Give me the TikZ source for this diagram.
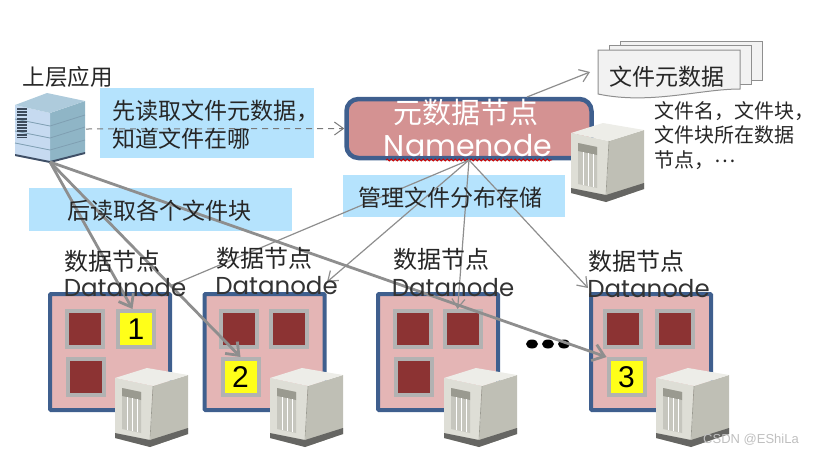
\documentclass[tikz,border=0pt]{standalone}
\usepackage{fontspec}
\setmainfont{Noto Sans CJK SC}
\newfontfamily\dnfont{Poppins}
\newfontfamily\numfont{Liberation Sans}
\usepackage{tikz}
\usetikzlibrary{arrows.meta,decorations.pathmorphing,shapes.geometric}

\begin{document}
\begin{tikzpicture}[x=1pt,y=-1pt,>={Straight Barb[length=9pt,width=13pt]},
    note box/.style={fill=noteblue,inner sep=0pt},
    note text/.style={font=\fontsize{23}{28}\selectfont,align=left,inner sep=0pt,text=black!85},
    side text/.style={font=\fontsize{20}{24.5}\selectfont,align=left,inner sep=0pt,text=black!85},
    data title/.style={font=\fontsize{24}{28}\selectfont,inner sep=0pt,text=black!85},
    data name/.style={font=\dnfont\fontsize{24.5}{28}\selectfont,inner sep=0pt,text=black!80},
    data box/.style={draw=nodeblue,fill=datapink,line width=4pt,rounded corners=1pt,minimum width=120pt,minimum height=116pt,inner sep=0pt},
    block/.style={draw=blockgrey,fill=blockred,line width=4pt,minimum width=36pt,minimum height=36pt,inner sep=0pt},
    num block/.style={block,fill=blockyellow,font=\numfont\fontsize{30}{30}\selectfont},
    page/.style={draw=pagegrey,fill=pagefill,line width=1pt,inner sep=0pt},
    dot/.style={ellipse,fill=black,minimum width=12pt,minimum height=9pt,inner sep=0pt},
    thin link/.style={->,draw=linegrey,line width=1.2pt},
    thick link/.style={-{Straight Barb[length=11pt,width=17pt]},draw=linegrey,line width=2.8pt},
    server/.pic={
      \fill[fill=srvside] (38,18) -- (73,7) -- (73,66) -- (35,79) -- cycle;
      \fill[fill=srvfront] (0,10) -- (38,18) -- (35,79) -- (0,70) -- cycle;
      \fill[fill=srvtop] (0,10) -- (32,0) -- (73,7) -- (38,18) -- cycle;
      \fill[fill=srvbase] (0,65) -- (35,72) -- (73,60) -- (73,66) -- (35,79) -- (0,70) -- cycle;
      \fill[fill=srvdoor] (7,20) -- (26,24) -- (26,65) -- (7,61) -- cycle;
      \fill[fill=srvhead] (7,20) -- (26,24) -- (26,32) -- (7,28) -- cycle;
      \draw[draw=white,line width=1pt] (12,29) -- (12,62) (17,30) -- (17,63) (22,31) -- (22,64);
      \draw[draw=srvhead,line width=.6pt] (38,18) -- (35,72);
    },
    client/.pic={
      \fill[fill=cliside] (36,20) -- (71,8) -- (71,60) -- (36,69) -- cycle;
      \fill[fill=clifront] (1,12) -- (36,20) -- (36,69) -- (1,62) -- cycle;
      \fill[fill=clitop] (1,12) -- (33,0) -- (71,8) -- (36,20) -- cycle;
      \draw[draw=cliline,line width=.8pt] (1,26) -- (36,33) -- (71,22) (1,38) -- (36,45) -- (71,34)
        (1,50) -- (36,57) -- (71,47);
      \draw[draw=clivent,line width=10pt,dash pattern=on 2pt off 1.2pt] (8,15) -- (8,45);
      \fill[fill=clidark] (1,61) -- (36,68) -- (71,59) -- (71,61) -- (36,70) -- (1,63) -- cycle;
    }]

  \definecolor{noteblue}{HTML}{B5E3FD}
  \definecolor{nodeblue}{HTML}{3F5F8E}
  \definecolor{namepink}{HTML}{D49292}
  \definecolor{datapink}{HTML}{E4B5B5}
  \definecolor{blockgrey}{HTML}{B2B2B2}
  \definecolor{blockred}{HTML}{8C3333}
  \definecolor{blockyellow}{HTML}{FFFF19}
  \definecolor{pagegrey}{HTML}{8F8F8F}
  \definecolor{pagefill}{HTML}{F2F2F2}
  \definecolor{linegrey}{HTML}{8E8E8E}
  \definecolor{srvside}{HTML}{BFBFB5}
  \definecolor{srvfront}{HTML}{DEDED6}
  \definecolor{srvtop}{HTML}{EDEDE8}
  \definecolor{srvbase}{HTML}{666663}
  \definecolor{srvdoor}{HTML}{C6C6BE}
  \definecolor{srvhead}{HTML}{9A9A90}
  \definecolor{cliside}{HTML}{8FB5C6}
  \definecolor{clifront}{HTML}{C6DAF0}
  \definecolor{clitop}{HTML}{AECBDC}
  \definecolor{cliline}{HTML}{7F9FB2}
  \definecolor{clivent}{HTML}{3C4A5A}
  \definecolor{clidark}{HTML}{3F4F66}

  \useasboundingbox (0,0) rectangle (817,456);

  % boxes with notes
  \node[note box,minimum width=214pt,minimum height=70pt] (readmeta) at (207,123) {};
  \node[note box,minimum width=263pt,minimum height=43pt] (readblock) at (160.5,209.5) {};
  \node[note box,minimum width=222pt,minimum height=42pt] (manage) at (454,196) {};

  % name node
  \node[draw=nodeblue,fill=namepink,line width=4.5pt,rounded corners=12pt,minimum width=245pt,minimum height=59pt] (namenode) at (469,128.5) {};
  \draw[decorate,decoration={snake,amplitude=1pt,segment length=4pt},draw=red!80!black,line width=.8pt] (386,160) -- (552,160);

  % file metadata pages
  \node[page,minimum width=142pt,minimum height=39pt] (page3) at (691.5,60.5) {};
  \node[page,minimum width=142pt,minimum height=39pt] (page2) at (680,64.5) {};
  \draw[draw=pagegrey,fill=pagefill,line width=1pt] (598,50) -- (740,50) -- (740,89) .. controls (700,89) and (650,105) .. (598,94) -- cycle;

  % data nodes
  \node[data box] (dn1) at (110,352) {};
  \node[data box] (dn2) at (264.5,352) {};
  \node[data box] (dn3) at (438,352) {};
  \node[data box] (dn4) at (651,352) {};

  \node[block] (b1a) at (84.5,329) {};
  \node[num block] (b1b) at (136,329) {1};
  \node[block] (b1c) at (86,377) {};
  \node[block] (b2a) at (238.5,329) {};
  \node[block] (b2b) at (289,329) {};
  \node[num block] (b2c) at (240.5,377) {2};
  \node[block] (b3a) at (412.5,329) {};
  \node[block] (b3b) at (463,329) {};
  \node[block] (b3c) at (413.5,377) {};
  \node[block] (b4a) at (623,329) {};
  \node[block] (b4b) at (675,329) {};
  \node[num block] (b4c) at (626.5,377) {3};

  \node[dot] (dot1) at (532,344) {};
  \node[dot] (dot2) at (548,344) {};
  \node[dot] (dot3) at (564,344) {};

  % servers
  \pic (clientpc) at (14,93) {client};
  \pic (nameserver) at (571,123) {server};
  \pic (server1) at (115,368) {server};
  \pic (server2) at (270,368) {server};
  \pic (server3) at (444,368) {server};
  \pic (server4) at (656,368) {server};

  % ends of the links
  \coordinate (clientleft) at (86,129);
  \coordinate (clientfoot) at (50,162);
  \coordinate (nametop) at (527,97);
  \coordinate (namefoot) at (469,160);
  \coordinate (pagetip) at (590,72);
  \coordinate (dn1tip) at (170,286);
  \coordinate (dn2tip) at (327,282);
  \coordinate (dn4tip) at (588,288);

  \path (clientleft) edge [->,draw=linegrey!85!black,line width=1pt,dash pattern=on 6pt off 5pt] (namenode.west)
        (nametop) edge [thin link] (pagetip)
        (namefoot) edge [thin link,-] (dn1tip)
        (namefoot) edge [thin link] (dn2tip)
        (namefoot) edge [thin link] (b3b.105)
        (namefoot) edge [thin link] (dn4tip)
        (clientfoot) edge [thick link] (b1b.100)
        (clientfoot) edge [thick link] (b2c.north)
        (clientfoot) edge [thick link] (b4c.north west);

  % texts
  \node[side text,font=\fontsize{22.5}{24}\selectfont] (clienttext) at (68,77) {上层应用};
  \node[note text] (readmetatext) at (216,125) {先读取文件元数据，\\知道文件在哪};
  \node[note text] (readblocktext) at (159,211) {后读取各个文件块};
  \node[note text] (managetext) at (450,198) {管理文件分布存储};
  \node[font=\fontsize{29}{34}\selectfont,text=white,inner sep=0pt] (nametext) at (466,113) {元数据节点};
  \node[font=\dnfont\fontsize{30}{34}\selectfont,text=white,inner sep=0pt] (namenodetext) at (468,146) {Namenode};
  \node[note text] (pagetext) at (667,77) {文件元数据};
  \node[side text,anchor=north west] (sidetext) at (654,101) {文件名，文件块，\\文件块所在数据\\节点，\raisebox{5pt}{…}};

  \node[data title] (dt1) at (112,261) {数据节点};
  \node[data title] (dt2) at (264,258) {数据节点};
  \node[data title] (dt3) at (441,259) {数据节点};
  \node[data title] (dt4) at (636,261) {数据节点};
  \node[data name] (dl1) at (125,288) {Datanode};
  \node[data name] (dl2) at (276.5,286) {Datanode};
  \node[data name] (dl3) at (453,288) {Datanode};
  \node[data name] (dl4) at (648.5,289) {Datanode};

  \node[font=\numfont\fontsize{13}{15}\selectfont,text=black!25,inner sep=0pt] (mark) at (751,440) {CSDN @EShiLa};

\end{tikzpicture}
\end{document}
